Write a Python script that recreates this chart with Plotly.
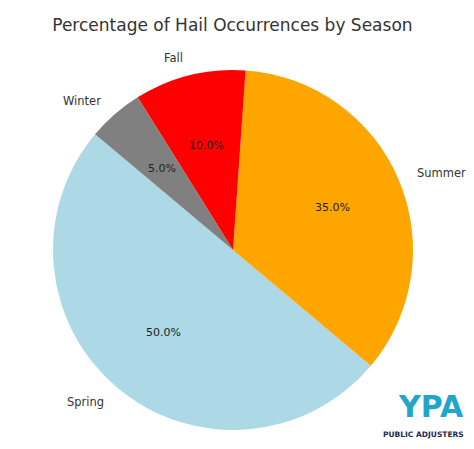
import numpy as np
import plotly.graph_objects as go

seasons = ["Spring", "Summer", "Fall", "Winter"]
shares = [50, 35, 10, 5]
colors = ["lightblue", "orange", "red", "gray"]
start_angle = 140  # degrees, counterclockwise from 3 o'clock

# the page body has an 8px margin, so keep the figure small enough to avoid scrollbars
W, H = 458, 433
ccx, ccy, R = 225, 242, 180  # pie centre / radius in figure px
x0, x1 = (ccx - R) / W, (ccx + R) / W
y0, y1 = (H - ccy - R) / H, (H - ccy + R) / H
cx, cy = ccx / W, (H - ccy) / H
rx, ry = R / W, R / H

fig = go.Figure(go.Pie(
    labels=seasons, values=shares, sort=False, direction="counterclockwise",
    rotation=270 - start_angle,
    marker=dict(colors=colors),
    textinfo="none", hoverinfo="label+percent",
    domain=dict(x=[x0, x1], y=[y0, y1]), showlegend=False,
))

# labels at 1.1 radius, percentages at 0.6 radius, like matplotlib
total = sum(shares)
ang = start_angle
for name, v in zip(seasons, shares):
    mid = np.radians(ang + 360 * v / total / 2)
    ang += 360 * v / total
    lx, ly = cx + 1.1 * rx * np.cos(mid), cy + 1.1 * ry * np.sin(mid)
    fig.add_annotation(x=lx, y=ly, xref="paper", yref="paper", text=name,
                       showarrow=False, font=dict(size=11.5, color="#333"), yanchor="middle",
                       xanchor="left" if np.cos(mid) > 0.1 else ("right" if np.cos(mid) < -0.1 else "center"))
    px, py = cx + 0.6 * rx * np.cos(mid), cy + 0.6 * ry * np.sin(mid)
    fig.add_annotation(x=px, y=py, xref="paper", yref="paper", text=f"{v / total * 100:.1f}%",
                       showarrow=False, font=dict(size=11, color="#222"),
                       xanchor="center", yanchor="middle")

fig.add_annotation(x=1.0, y=0.035, xref="paper", yref="paper", text="<b>YPA</b>",
                   showarrow=False, xanchor="right", yanchor="bottom",
                   font=dict(size=30, color="#1fa6c8", family="DejaVu Sans"))
fig.add_annotation(x=1.0, y=0.0, xref="paper", yref="paper", text="<b>PUBLIC ADJUSTERS</b>",
                   showarrow=False, xanchor="right", yanchor="bottom",
                   font=dict(size=7.5, color="#1a2b4a", family="DejaVu Sans"))

fig.update_layout(
    width=W, height=H, margin=dict(l=0, r=0, t=0, b=0),
    paper_bgcolor="white", font=dict(family="DejaVu Sans"),
    title=dict(text="Percentage of Hail Occurrences by Season", x=0.49, y=0.975,
               xanchor="center", font=dict(size=17, color="#333")),
)
fig.write_html("out.html")
